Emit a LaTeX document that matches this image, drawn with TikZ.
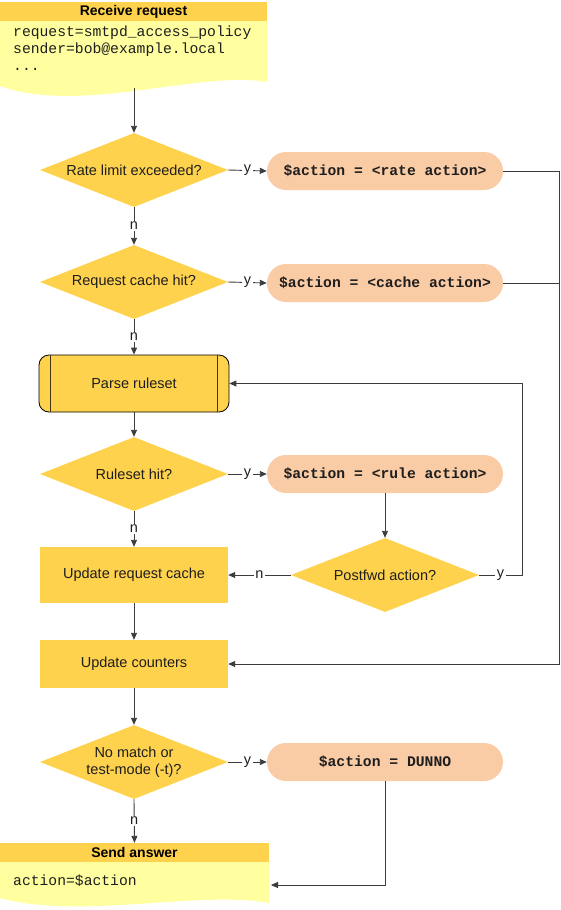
\documentclass[tikz,border=0pt]{standalone}
\usepackage{fontspec}
\setmainfont{Liberation Sans}
\setmonofont{Liberation Mono}
\usetikzlibrary{shapes.geometric,arrows.meta}
\definecolor{gold}{RGB}{255,210,77}
\definecolor{pale}{RGB}{255,255,160}
\definecolor{peach}{RGB}{250,204,166}
\definecolor{ln}{RGB}{60,60,60}
\definecolor{txt}{RGB}{30,30,30}
\begin{document}
\begin{tikzpicture}[x=1pt,y=-1pt,
  sf/.style={font=\fontsize{14.5}{17}\selectfont, text=txt},
  dec/.style={diamond, fill=gold, minimum width=188pt, minimum height=74pt, inner sep=0pt, aspect=2.5, align=center, sf},
  pill/.style={rectangle, rounded corners=19pt, fill=peach, minimum width=236pt, minimum height=38pt, inner sep=0pt, text=txt, font=\fontsize{14.7}{17}\ttfamily\bfseries},
  proc/.style={rectangle, fill=gold, minimum width=188pt, minimum height=56pt, inner sep=0pt, sf},
  hdr/.style={rectangle, fill=gold, inner sep=0pt, text=black, font=\fontsize{14}{17}\selectfont\bfseries},
  mono/.style={inner sep=0pt, anchor=base west, text=txt, font=\fontsize{14.7}{17.5}\ttfamily},
  wire/.style={draw=ln, line width=0.9pt},
  conn/.style={wire, -{Triangle[length=7pt,width=6pt]}},
  lab/.style={fill=white, inner sep=1.5pt, sf}]
\useasboundingbox (0,0) rectangle (561,910);

% Receive request document
\fill[pale] (0,21) -- (267,21) -- (267,82) .. controls (200,70) and (80,115) .. (0,86) -- cycle;
\node[hdr, minimum width=267pt, minimum height=19pt] (rr) at (133.5,11.5) {Receive request};
\node[mono] (rrb1) at (13,36) {request=smtpd\_access\_policy};
\node[mono] (rrb2) at (13,53) {sender=bob@example.local};
\node[mono] (rrb3) at (13,70) {...};
\coordinate (rrout) at (134,88);

% Send answer document
\fill[pale] (0,862) -- (269,862) -- (269,903) .. controls (200,890) and (80,920) .. (0,898) -- cycle;
\node[hdr, minimum width=269pt, minimum height=19pt] (sa) at (134.5,852.5) {Send answer};
\node[mono] (sab) at (13,885) {action=\$action};
\coordinate (sain) at (271,885);

% left column
\node[dec] (d1) at (134,170) {Rate limit exceeded?};
\node[dec] (d2) at (134,282) {Request cache hit?};
\node[proc, draw=black, line width=0.8pt, rounded corners=10pt, minimum width=190pt, minimum height=57pt] (pr) at (134,383.5) {Parse ruleset};
\draw[draw=black!75!gold, line width=0.8pt] ([xshift=12pt]pr.north west) -- ([xshift=12pt]pr.south west);
\draw[draw=black!75!gold, line width=0.8pt] ([xshift=-12pt]pr.north east) -- ([xshift=-12pt]pr.south east);
\node[dec] (d3) at (134,474) {Ruleset hit?};
\node[proc] (urc) at (134,575) {Update request cache};
\node[proc, minimum height=48pt] (uc) at (134,664) {Update counters};
\node[dec] (d5) at (134,762) {No match or\\test-mode (-t)?};

% right column
\node[pill] (p1) at (385,171) {\$action = <rate action>};
\node[pill] (p2) at (385,283) {\$action = <cache action>};
\node[pill] (p3) at (385,474) {\$action = <rule action>};
\node[dec] (d4) at (385,575) {Postfwd action?};
\node[pill] (p5) at (385,762) {\$action = DUNNO};

\coordinate (rail) at (559,664);
\coordinate (loopx) at (522,383.5);

% connectors
\draw[conn] (rrout) -- (d1.north);
\draw[conn] (d1.east) -- node[lab]{y} (p1.west);
\draw[conn] (d1.south) -- node[lab]{n} (d2.north);
\draw[conn] (d2.east) -- node[lab]{y} (p2.west);
\draw[conn] (d2.south) -- node[lab]{n} (pr.north);
\draw[conn] (pr.south) -- (d3.north);
\draw[conn] (d3.east) -- node[lab]{y} (p3.west);
\draw[conn] (d3.south) -- node[lab]{n} (urc.north);
\draw[conn] (p3.south) -- (d4.north);
\draw[conn] (d4.west) -- node[lab]{n} (urc.east);
\draw[conn] (d4.east) -- node[lab]{y} (d4.east -| loopx) -- (loopx) -- (pr.east);
\draw[conn] (urc.south) -- (uc.north);
\draw[conn] (p1.east) -- (p1.east -| rail) -- (rail) -- (uc.east);
\draw[wire] (p2.east) -- (p2.east -| rail);
\draw[conn] (uc.south) -- (d5.north);
\draw[conn] (d5.east) -- node[lab]{y} (p5.west);
\draw[conn] (d5.south) -- node[lab]{n} (sa.north);
\draw[conn] (p5.south) -- (p5.south |- sain) -- (sain);
\end{tikzpicture}
\end{document}
